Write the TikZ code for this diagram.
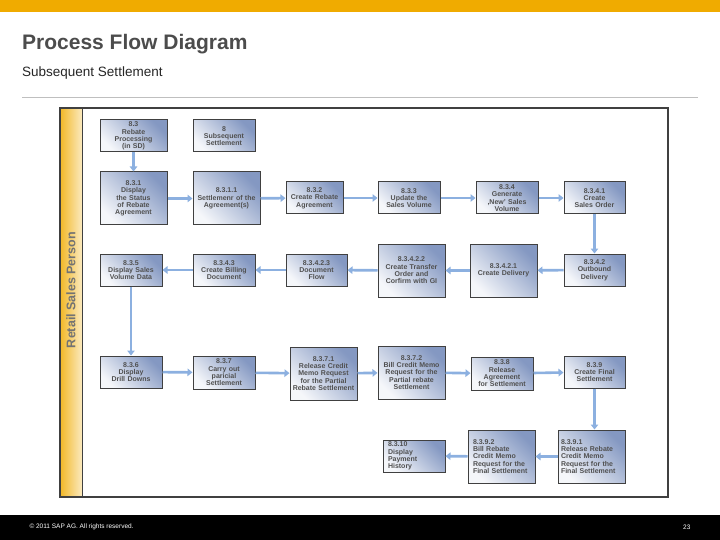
\documentclass[tikz,border=0pt]{standalone}
\usepackage{fontspec}
\setmainfont{Liberation Sans}
\usetikzlibrary{arrows.meta}
\definecolor{sapor}{HTML}{F0AB00}
\definecolor{tgray}{HTML}{505050}
\definecolor{bxblue}{HTML}{8498C2}
\definecolor{arrblue}{HTML}{8CB0E0}
\newcommand\nohyph{\hyphenpenalty=10000\relax\exhyphenpenalty=10000\relax}
\tikzset{
  box/.style={draw=black!75, line width=1pt, shading=axis, left color=white!92!bxblue, right color=bxblue, shading angle=135,
    inner sep=1pt, font=\fontsize{7}{7.3}\selectfont\bfseries\nohyph, text=tgray},
  arr/.style={draw=arrblue, line width=2.6pt, -{Triangle[length=5pt,width=7.5pt]}}
}
\newcommand\bx[8][center]{\node[box, align=#1, minimum width={(#5-#3)*1pt}, minimum height={(#6-#4)*1pt}, text width={(#5-#3-#8)*1pt}] (#2) at ({(#3+#5)/2},{(#4+#6)/2}) {#7};}
\begin{document}
\begin{tikzpicture}[x=1pt,y=-1pt]
\useasboundingbox (0,0) rectangle (720,540);
\fill[white] (0,0) rectangle (720,540);
\fill[sapor] (0,0) rectangle (720,12);
\node[anchor=base west, font=\fontsize{21}{24}\selectfont\bfseries, text=black!70, inner sep=0] (title) at (22,50) {Process Flow Diagram};
\node[anchor=base west, font=\fontsize{13.5}{16}\selectfont, text=black!85, inner sep=0] (sub) at (22,77) {Subsequent Settlement};
\draw[black!25, line width=0.8pt] (22,97) -- (698,97);
\shade[left color=sapor!85, right color=sapor!25] (60,108) rectangle (82,497);
\draw[black!75, line width=1.2pt] (60,108) rectangle (668,497);
\draw[black!75, line width=1pt] (82,108) -- (82,497);
\node[rotate=90, font=\fontsize{12.5}{14}\selectfont\bfseries, text=black!55] (lane) at (71,290) {Retail Sales Person};
\fill[black] (0,515) rectangle (720,540);
\node[anchor=west, font=\fontsize{6.5}{8}\selectfont, text=white] (copy) at (26,527) {\textcopyright{} 2011 SAP AG. All rights reserved.};
\node[anchor=east, font=\fontsize{6.5}{8}\selectfont, text=white] (pg) at (694,527) {23};
\bx{a}{100}{120}{167}{152}{8.3\\Rebate Processing (in SD)}{20}
\bx{b}{193}{120}{255}{152}{8\\Subsequent Settlement}{8}
\bx{c}{100}{172}{167}{225}{8.3.1\\Display the Status of Rebate Agreement}{16}
\bx{d}{193}{172}{260}{225}{8.3.1.1\\Settlemenr of the Agreement(s)}{8}
\bx{e}{286}{182}{343}{214}{8.3.2\\Create Rebate Agreement}{4}
\bx{f}{378}{182}{440}{214}{8.3.3\\Update the Sales Volume}{8}
\bx{g}{476}{182}{538}{214}{8.3.4\\Generate ,New' Sales Volume}{12}
\bx{h}{564}{182}{625}{214}{8.3.4.1\\Create Sales Order}{6}
\bx{i}{564}{254}{625}{286}{8.3.4.2\\Outbound Delivery}{10}
\bx{j}{470}{244}{537}{297}{8.3.4.2.1\\Create Delivery}{6}
\bx{k}{378}{244}{445}{297}{8.3.4.2.2\\Create Transfer Order and Corfirm with GI}{2}
\bx{l}{286}{254}{347}{286}{8.3.4.2.3\\Document Flow}{14}
\bx{m}{193}{254}{255}{286}{8.3.4.3\\Create Billing Document}{4}
\bx{n}{100}{254}{162}{286}{8.3.5\\Display Sales Volume Data}{2}
\bx{o}{100}{356}{162}{388}{8.3.6\\Display Drill Downs}{8}
\bx{p}{193}{356}{255}{389}{8.3.7\\Carry out paricial Settlement}{12}
\bx{q}{290}{347}{357}{400}{8.3.7.1\\Release Credit Memo Request for the Partial Rebate Settlement}{4}
\bx{r}{378}{346}{445}{399}{8.3.7.2\\Bill Credit Memo Request for the Partial rebate Settlement}{4}
\bx{s}{471}{357}{533}{390}{8.3.8\\Release Agreement for Settlement}{8}
\bx{t}{564}{356}{625}{388}{8.3.9\\Create Final Settlement}{4}
\bx[left]{u}{558}{430}{625}{483}{8.3.9.1\\Release Rebate Credit Memo Request for the Final Settlement}{6}
\bx[left]{v}{468}{430}{535}{483}{8.3.9.2\\Bill Rebate Credit Memo Request for the Final Settlement}{10}
\bx[left]{w}{383}{440}{445}{472}{8.3.10\\Display Payment History}{10}
\draw[arr] (a) -- (c);
\draw[arr] (c) -- (d);
\draw[arr] (d) -- (e);
\draw[arr] (e) -- (f);
\draw[arr] (f) -- (g);
\draw[arr] (g) -- (h);
\draw[arr] (h) -- (i);
\draw[arr] (i) -- (j);
\draw[arr] (j) -- (k);
\draw[arr] (k) -- (l);
\draw[arr] (l) -- (m);
\draw[arr] (m) -- (n);
\draw[arr] (n) -- (o);
\draw[arr] (o) -- (p);
\draw[arr] (p) -- (q);
\draw[arr] (q) -- (r);
\draw[arr] (r) -- (s);
\draw[arr] (s) -- (t);
\draw[arr] (t.south) -- (t.south |- u.north);
\draw[arr] (u) -- (v);
\draw[arr] (v) -- (w);
\end{tikzpicture}
\end{document}
